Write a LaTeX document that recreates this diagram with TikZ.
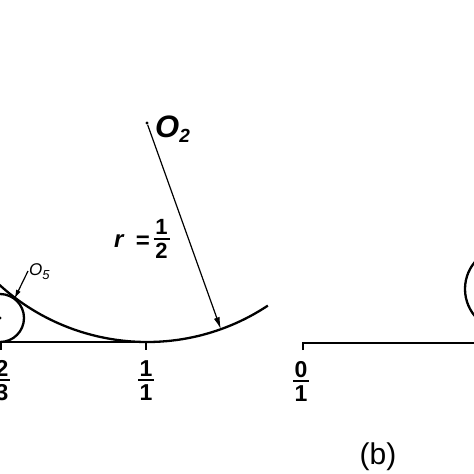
\documentclass[tikz,border=0pt]{standalone}
\usepackage{fontspec}
\setmainfont{Liberation Sans}
\usetikzlibrary{arrows.meta,calc}
\tikzset{
  curve/.style={line width=2.3pt},
  axis/.style={line width=2.1pt, line join=miter},
  ptr/.style={line width=1.2pt,-{Latex[length=12pt,width=6pt]}},
  ptrsmall/.style={line width=1.2pt,-{Latex[length=9pt,width=5pt]}},
  dotc/.style={circle,fill=black,inner sep=0pt,minimum size=3.4pt},
  fbar/.style={line width=2pt},
  lbl/.style={inner sep=0pt},
}
\newcommand{\fracnode}[6]{%
  \node[lbl,anchor=base,font=\fontsize{#6}{#6}\selectfont\bfseries] (#1n) at (#2,#3-4) {#4};
  \node[lbl,anchor=base,font=\fontsize{#6}{#6}\selectfont\bfseries] (#1d) at (#2,#3+20) {#5};
  \draw[fbar] (#2-8,#3) -- (#2+8,#3);
}
\begin{document}
\begin{tikzpicture}[x=1pt,y=-1pt]
\useasboundingbox (0,0) rectangle (474,474);
\clip (0,0) rectangle (474,474);
% centres
\coordinate (O2) at (147,123);
\coordinate (O5) at (0,318);
\node[dotc] (O2dot) at (O2) {};
\node[dotc] (O5dot) at (O5) {};
% big circle arc (radius 1/2)
\draw[curve] (O2) ++(-142:219pt) arc[start angle=-142,end angle=-56.5,radius=219pt];
% small circle
\draw[curve] (O5) circle[radius=24pt];
% baseline (a)
\coordinate (A0) at (-5,342);
\coordinate (A1) at (146,342);
\draw[axis] (A0) -- (A1);
\draw[axis] (A1) -- ++(0,8);
\draw[axis] (1,342) -- (1,350);
% fractions (a)
\fracnode{f11}{146}{380}{1}{1}{23}
\fracnode{f23}{2}{380}{2}{3}{23}
% radius arrow
\coordinate (T2) at ([shift={(-70.3:219pt)}]O2);
\draw[ptr] (O2dot) -- (T2);
% O5 arrow
\coordinate (T5) at ([shift={(53:24pt)}]O5);
\coordinate (F5) at (28,271);
\draw[ptrsmall] (F5) -- (T5);
% labels
\node[lbl,anchor=base west,font=\fontsize{31}{31}\selectfont\itshape\bfseries] (O2lab) at (155,137) {O\raisebox{-5pt}{\fontsize{19}{19}\selectfont 2}};
\node[lbl,anchor=base west,font=\fontsize{17}{17}\selectfont\itshape] (O5lab) at (29,275) {O\raisebox{-4pt}{\fontsize{13}{13}\selectfont 5}};
\node[lbl,anchor=base west,font=\fontsize{24}{24}\selectfont\itshape\bfseries] (rlab) at (114,247) {r};
\node[lbl,anchor=base,font=\fontsize{24}{24}\selectfont\bfseries] (eqlab) at (143,248) {=};
\fracnode{fr}{161.5}{238.5}{1}{2}{22}
% baseline (b)
\coordinate (B0) at (303,343);
\coordinate (B1) at (480,343);
\draw[axis] ($(B0)+(0,7)$) -- (B0) -- (B1);
\fracnode{f01}{301}{381}{0}{1}{23}
% circle (b)
\draw[curve] (507,289) circle[radius=42pt];
\node[lbl,font=\fontsize{30}{30}\selectfont] (blab) at (378,457) {(b)};
\end{tikzpicture}
\end{document}
